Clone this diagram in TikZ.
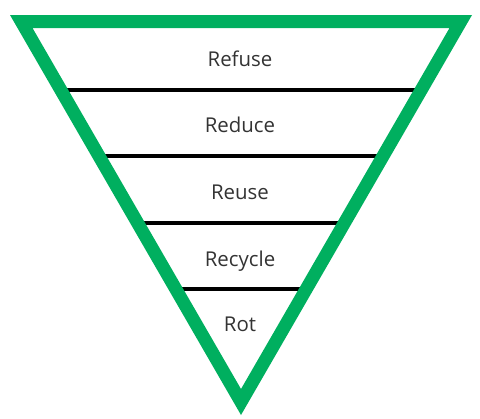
\documentclass[tikz,border=0pt]{standalone}
\usepackage{fontspec}
\setmainfont{Open Sans}
\definecolor{frame}{RGB}{0,175,95}
\definecolor{txt}{RGB}{51,51,51}
\begin{document}
\begin{tikzpicture}[x=1bp,y=-1bp,
  level/.style={font=\fontsize{20.5}{24}\selectfont, text=txt, anchor=base, inner sep=0pt},
  divider/.style={line width=4bp, black}]
\useasboundingbox (0,0) rectangle (480,418);
% dividers (ends hidden under the frame)
\foreach \y in {90,156,223,289} {
  \draw[divider] ({18+0.5775*(\y-15)},\y) -- ({464-0.5775*(\y-15)},\y);
}
% frame
\fill[frame, even odd rule]
  (10,15) -- (472,15) -- (241,415) -- cycle
  (32.5,28) -- (449.5,28) -- (241,389) -- cycle;
\node[level] (l1) at (240,66) {Refuse};
\node[level] (l2) at (240,132) {Reduce};
\node[level] (l3) at (240,199) {Reuse};
\node[level] (l4) at (240,266) {Recycle};
\node[level] (l5) at (240,331) {Rot};
\end{tikzpicture}
\end{document}
